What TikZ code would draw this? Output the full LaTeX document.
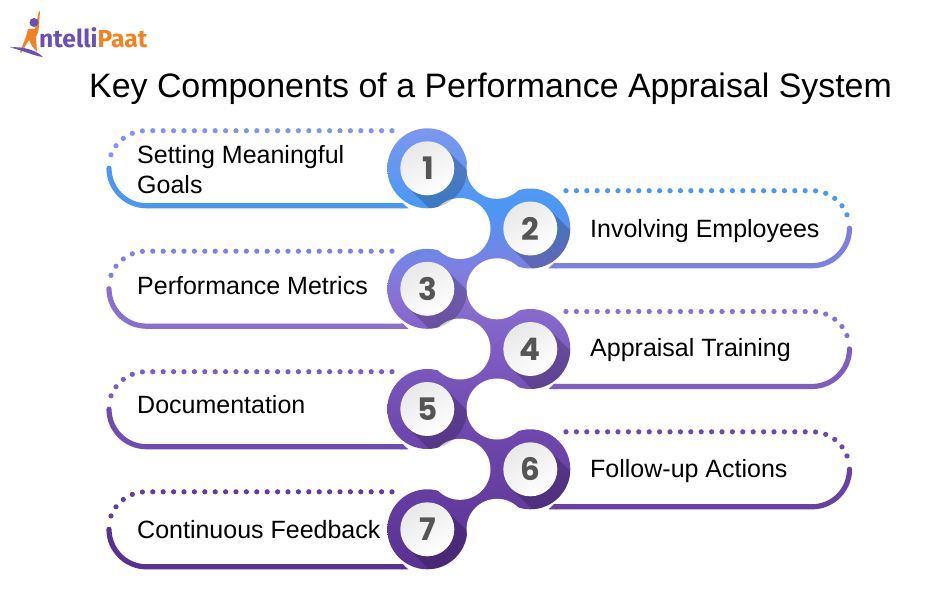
\documentclass[tikz,border=0pt]{standalone}
\usepackage{fontspec}
\setmainfont{Liberation Sans}
\newfontfamily\digitfont{Poppins}
\newfontfamily\logofont{Fira Sans}
\definecolor{ca}{HTML}{7E97EE}
\definecolor{cb}{HTML}{4A98F5}
\definecolor{cc}{HTML}{7C80E2}
\definecolor{cd}{HTML}{8A6FD2}
\definecolor{ce}{HTML}{7F5EC4}
\definecolor{cf}{HTML}{6E48AE}
\definecolor{cg}{HTML}{5A3192}
\definecolor{digitgray}{HTML}{555555}
\definecolor{logopurple}{HTML}{6A4FB5}
\definecolor{logoorange}{HTML}{F58220}
\pgfdeclareverticalshading{ribbon}{100bp}{color(0bp)=(cg);color(25bp)=(cg);color(40.8bp)=(cf);color(50.5bp)=(ce);color(55.5bp)=(cd);color(59.2bp)=(cc);color(66.3bp)=(cb);color(75bp)=(ca);color(100bp)=(ca)}
\tikzset{
  x=1pt,y=-1pt,
  label text/.style={anchor=base west,inner sep=0pt,font=\fontsize{25}{28}\selectfont,text=black},
  digit text/.style={inner sep=0pt,font=\digitfont\bfseries\fontsize{31}{32}\selectfont,text=digitgray},
  dots line/.style={line width=5.2pt,line cap=round,dash pattern=on 0pt off 10.4pt},
  bar line/.style={line width=5.2pt,line cap=round},
}
\newcommand{\leftpill}[3]{%
  \draw[dots line,#2] (392,#1) -- (146,#1) arc[start angle=90,end angle=172,radius=37.5pt];
  \draw[bar line,#3] (109,#1+37.5) arc[start angle=180,end angle=270,radius=37.5pt] -- (402,#1+75);
  \fill[#3] (401,#1+72.4) -- (402.5,#1+72.4) -- (408.5,#1+77.6) -- (401,#1+77.6) -- cycle;
}
\newcommand{\rightpill}[3]{%
  \draw[dots line,#2] (566,#1) -- (812,#1) arc[start angle=90,end angle=8,radius=37.5pt];
  \draw[bar line,#3] (849.5,#1+37.5) arc[start angle=0,end angle=-90,radius=37.5pt] -- (556,#1+75);
  \fill[#3] (557,#1+72.4) -- (554,#1+72.4) -- (548.5,#1+77.6) -- (557,#1+77.6) -- cycle;
}
\newcommand{\discshadow}[2]{%
  \begin{scope}
    \clip (#1,#2) circle[radius=40pt];
    \fill[black,opacity=.2] (#1+19.1,#2-19.1) -- ++(60,60) -- ++(-38.2,38.2) -- ++(-60,-60) -- cycle;
  \end{scope}
  \shade[left color=black!9,right color=white,shading angle=30] (#1,#2) circle[radius=27pt];
}
\begin{document}
\begin{tikzpicture}
\useasboundingbox (0,0) rectangle (950,607);
\fill[white] (0,0) rectangle (950,607);
\leftpill{130.7}{ca}{cb}
\rightpill{190.7}{cb}{cc}
\leftpill{251.2}{cc!85!ca}{cd}
\rightpill{311.5}{cd}{ce}
\leftpill{371.7}{ce!90!cf}{cf!85!ce}
\rightpill{431.8}{cf}{cf!70!cg}
\leftpill{491.8}{cf!50!cg}{cg}
\begin{scope}
  \clip (427.3,168.3) circle[radius=40pt] (530.3,228.5) circle[radius=40pt]
        (427.3,288.8) circle[radius=40pt] (530.3,349) circle[radius=40pt]
        (427.3,409) circle[radius=40pt] (530.3,469.3) circle[radius=40pt]
        (427.3,529.3) circle[radius=40pt]
        (427.3,168.3) -- (460,228.5) -- (427.3,288.8) -- (460,349) -- (427.3,409) -- (460,469.3) -- (427.3,529.3) -- (497,529.3) -- (530.3,469.3) -- (497,409) -- (530.3,349) -- (497,288.8) -- (530.3,228.5) -- (497,168.3) -- cycle;
  \shade[shading=ribbon] (380,128) rectangle (580,570);
\end{scope}
\fill[white] (497,168.3) circle[radius=30.5pt] (460,228.5) circle[radius=30.5pt]
  (497,288.8) circle[radius=30.5pt] (460,349) circle[radius=30.5pt]
  (497,409) circle[radius=30.5pt] (460,469.3) circle[radius=30.5pt]
  (497,529.3) circle[radius=30.5pt];
\discshadow{427.3}{168.3}
\discshadow{530.3}{228.5}
\discshadow{427.3}{288.8}
\discshadow{530.3}{349}
\discshadow{427.3}{409}
\discshadow{530.3}{469.3}
\discshadow{427.3}{529.3}
\node[digit text] (d1) at (428,168.5) {1};
\node[digit text] (d2) at (530.3,228.5) {2};
\node[digit text] (d3) at (427.5,289) {3};
\node[digit text] (d4) at (530.3,349) {4};
\node[digit text] (d5) at (427.5,409) {5};
\node[digit text] (d6) at (530.3,469.3) {6};
\node[digit text] (d7) at (427.5,529.3) {7};
\node[label text] (l1a) at (137,163) {Setting Meaningful};
\node[label text] (l1b) at (137,193) {Goals};
\node[label text] (l2) at (590,237) {Involving Employees};
\node[label text] (l3) at (137,294) {Performance Metrics};
\node[label text] (l4) at (590,356) {Appraisal Training};
\node[label text] (l5) at (137,413) {Documentation};
\node[label text] (l6) at (590,477) {Follow-up Actions};
\node[label text] (l7) at (137,538) {Continuous Feedback};
\node[anchor=base west,inner sep=0pt,font=\fontsize{33.9}{38}\selectfont] (title) at (89,98) {Key Components of a Performance Appraisal System};
\fill[logoorange] (39,11) -- (40,12) -- (38.5,31) -- (36,37) -- (37,52) -- (32,46) -- (29,40) -- (21,53) -- (20,52) -- (26,37) -- (28,29) -- (35,29) -- cycle;
\fill[logopurple] (34,22.5) circle[radius=4.5pt];
\fill[logopurple] (10,47.5) .. controls (22,46) and (36,50) .. (43,57) .. controls (34,56) and (22,50) .. (10,47.5) -- cycle;
\node[anchor=base west,inner sep=0pt,font=\logofont\bfseries\fontsize{24.6}{28}\selectfont] (logo) at (39,48) {\textcolor{logopurple}{ntelli}\textcolor{logoorange}{Paat}};
\end{tikzpicture}
\end{document}
